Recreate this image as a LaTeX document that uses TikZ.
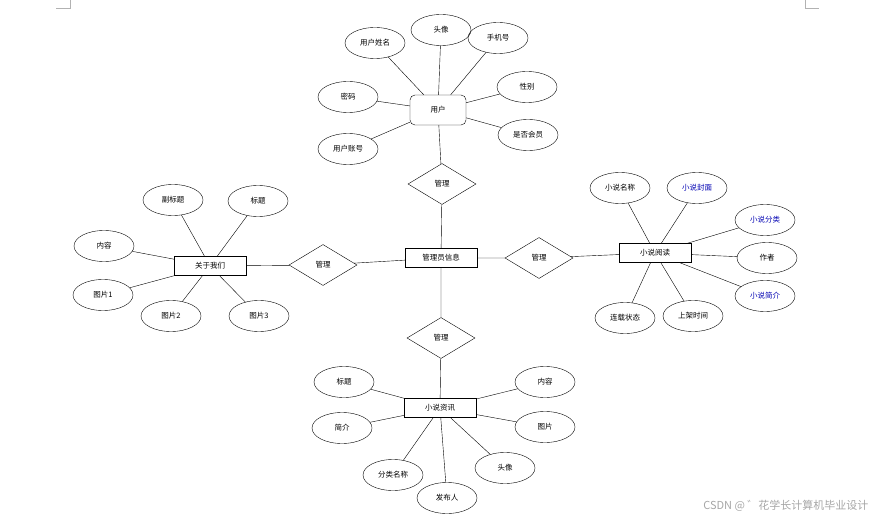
\documentclass[tikz,border=0pt]{standalone}
\usepackage{fontspec}
\setmainfont{Noto Sans CJK SC}
\usetikzlibrary{shapes.geometric}
\begin{document}
\begin{tikzpicture}[x=1pt,y=-1pt,font=\fontsize{7.5}{9}\selectfont,
  attr/.style={draw,ellipse,minimum width=60pt,minimum height=31pt,inner sep=0pt},
  ent/.style={draw,minimum width=72pt,minimum height=19pt,inner sep=0pt},
  rel/.style={draw,diamond,aspect=1.65,minimum width=68pt,minimum height=41pt,inner sep=0pt},
  ln/.style={draw}]
\useasboundingbox (0,0) rectangle (874,521);
\draw[gray!60] (70,0)--(70,8)--(56,8) (805,0)--(805,8)--(819,8);
% user
\node[ent,rounded corners=5pt,minimum width=56pt,minimum height=30pt] (u) at (438,110) {用户};
\node[attr] (u1) at (441,30) {头像};
\node[attr] (u2) at (375,43) {用户姓名};
\node[attr] (u3) at (498,38) {手机号};
\node[attr] (u4) at (527,87) {性别};
\node[attr] (u5) at (348,97) {密码};
\node[attr] (u6) at (528,135) {是否会员};
\node[attr] (u7) at (348,149) {用户账号};
\foreach \i in {1,...,7} \draw (u)--(u\i);
% center
\node[ent] (m) at (441,258) {管理员信息};
\node[rel] (r1) at (442,184) {管理};
\node[rel] (r2) at (323,265) {管理};
\node[rel] (r3) at (539,258) {管理};
\node[rel] (r4) at (441,338) {管理};
% about
\node[ent] (a) at (210,266) {关于我们};
\node[attr] (a1) at (173,200) {副标题};
\node[attr] (a2) at (258,201) {标题};
\node[attr] (a3) at (104,246) {内容};
\node[attr] (a4) at (103,295) {图片1};
\node[attr] (a5) at (171,316) {图片2};
\node[attr] (a6) at (259,316) {图片3};
\foreach \i in {1,...,6} \draw (a.center)--(a\i);
\node[ent,fill=white] at (210,266) {关于我们};
% novel
\node[ent] (n) at (655,253) {小说阅读};
\node[attr] (n1) at (620,188) {小说名称};
\node[attr,text=blue!70!black] (n2) at (697,188) {小说封面};
\node[attr,text=blue!70!black] (n3) at (765,220) {小说分类};
\node[attr] (n4) at (767,258) {作者};
\node[attr,text=blue!70!black] (n5) at (765,296) {小说简介};
\node[attr] (n6) at (693,316) {上架时间};
\node[attr] (n7) at (625,318) {连载状态};
\foreach \i in {1,...,7} \draw (n.center)--(n\i);
\node[ent,fill=white] at (655,253) {小说阅读};
% news
\node[ent] (s) at (440,408) {小说资讯};
\node[attr] (s1) at (344,382) {标题};
\node[attr] (s2) at (342,428) {简介};
\node[attr] (s3) at (545,382) {内容};
\node[attr] (s4) at (545,427) {图片};
\node[attr] (s5) at (505,468) {头像};
\node[attr] (s6) at (447,498) {发布人};
\node[attr] (s7) at (393,475) {分类名称};
\foreach \i in {1,...,7} \draw (s.center)--(s\i);
\node[ent,fill=white] at (440,408) {小说资讯};
% relations
\draw (u)--(r1)--(m) (a)--(r2)--(m) (m)--(r3)--(n) (m)--(r4)--(s);
\node[text=gray!70,font=\fontsize{11}{13}\selectfont,anchor=east] (w) at (872,506) {CSDN @ ゛花学长计算机毕业设计};
\end{tikzpicture}
\end{document}
